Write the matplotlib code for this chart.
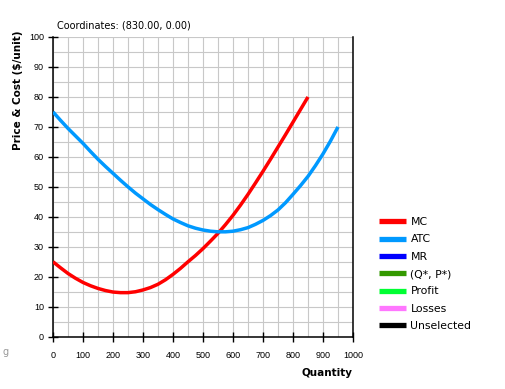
import matplotlib
matplotlib.use("Agg")
import matplotlib.pyplot as plt
from matplotlib.lines import Line2D

# values, q in steps of 25
q_mc = [0, 25, 50, 75, 100, 125, 150, 175, 200, 225, 250, 275, 300, 325,
        350, 375, 400, 425, 450, 475, 500, 525, 550, 575, 600, 625, 650,
        675, 700, 725, 750, 775, 800, 825, 850]
mc = [25, 23, 21.1, 19.5, 18.1, 17.0, 16.1, 15.4, 14.9, 14.7, 14.7, 15.0,
      15.6, 16.4, 17.5, 19.0, 20.8, 22.8, 25, 27.1, 29.4, 31.9, 34.5, 37.4,
      40.5, 43.9, 47.5, 51.3, 55.2, 59.2, 63.3, 67.4, 71.6, 75.8, 80]

q_atc = [0, 25, 50, 75, 100, 125, 150, 175, 200, 225, 250, 275, 300, 325,
         350, 375, 400, 425, 450, 475, 500, 525, 550, 575, 600, 625, 650,
         675, 700, 725, 750, 775, 800, 825, 850, 875, 900, 925, 950]
atc = [75, 72.2, 69.5, 67, 64.5, 61.8, 59.2, 56.8, 54.5, 52.2, 50, 47.9,
       46, 44.1, 42.4, 40.8, 39.3, 38.1, 37, 36.2, 35.6, 35.2, 35, 35.0,
       35.2, 35.7, 36.4, 37.5, 38.8, 40.4, 42.3, 44.7, 47.5, 50.4, 53.5,
       57.1, 61, 65.3, 70]

legend_labels = ["MC", "ATC", "MR", "(Q*, P*)", "Profit", "Losses", "Unselected"]
legend_colors = ["#ff0000", "#0099ff", "#0000ff", "#339900", "#00ff33", "#ff77ff", "#000000"]

x_ticks = list(range(0, 1001, 100))
y_ticks = list(range(0, 101, 10))

W, H = 506, 389
fig = plt.figure(figsize=(W / 100, H / 100), dpi=100)
ax = fig.add_axes([53 / W, 1 - 336.7 / H, 300 / W, 299.7 / H])

ax.set_xlim(0, 1000)
ax.set_ylim(0, 100)
ax.set_xticks(x_ticks)
ax.set_yticks(y_ticks)
ax.set_xticks(range(0, 1001, 50), minor=True)
ax.set_yticks(range(0, 101, 5), minor=True)
ax.grid(True, which="both", color="#c8c8c8", lw=0.8, zorder=0)
ax.tick_params(which="minor", length=0)
ax.tick_params(which="major", direction="inout", length=7, width=1, color="black",
               labelsize=6.5, labelfontfamily="Liberation Sans")
ax.tick_params(axis="x", pad=7)
ax.tick_params(axis="y", pad=3)
for s in ["left", "bottom", "right"]:
    ax.spines[s].set_color("black")
    ax.spines[s].set_linewidth(1.1)
ax.spines["top"].set_visible(False)

ax.plot(q_mc, mc, color=legend_colors[0], lw=2.5, zorder=3, solid_capstyle="butt")
ax.plot(q_atc, atc, color=legend_colors[1], lw=2.5, zorder=3, solid_capstyle="butt")

handles = [Line2D([], [], color=c, lw=3.8, solid_capstyle="butt") for c in legend_colors]
fig.legend(handles, legend_labels, loc="upper left", bbox_to_anchor=(379 / W, 1 - 217 / H),
           frameon=False, fontsize=7.8, handlelength=2.5, handletextpad=0.4,
           labelspacing=0.68, borderpad=0, borderaxespad=0)

fig.text(57 / W, 1 - 25 / H, "Coordinates: (830.00, 0.00)", fontsize=7, va="center", ha="left")
fig.text(18 / W, 1 - 90 / H, "Price & Cost ($/unit)", fontsize=7.5, fontweight="bold",
         rotation=90, va="center", ha="center")
fig.text(353 / W, 1 - 373 / H, "Quantity", fontsize=7.5, fontweight="bold",
         va="center", ha="right")
fig.text(3 / W, 1 - 352 / H, "g", fontsize=7, color="#999999", va="center", ha="left")

fig.savefig("out.png", dpi=100)
